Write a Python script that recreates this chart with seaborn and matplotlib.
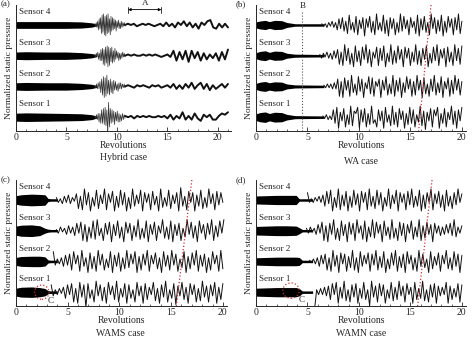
import numpy as np
import matplotlib
matplotlib.use("Agg")
import matplotlib.pyplot as plt
from matplotlib.patches import Ellipse
import seaborn as sns

# ---- data (units: sensor spacing = 1, osc ints x 0.04) ----
sensors = ["Sensor 1", "Sensor 2", "Sensor 3", "Sensor 4"]
rev_ticks = [0, 5, 10, 15, 20]

# (a) hybrid case
hy_band_x = [0, 1, 3, 5, 6.5, 7.5, 8.0]
hy_band_w1 = [0.13, 0.14, 0.13, 0.12, 0.11, 0.08, 0.03]
hy_band_w2 = [0.12, 0.13, 0.12, 0.12, 0.10, 0.07, 0.03]
hy_band_w3 = [0.12, 0.13, 0.12, 0.12, 0.10, 0.07, 0.03]
hy_band_w4 = [0.11, 0.11, 0.11, 0.11, 0.10, 0.07, 0.03]
hy_burst_span = [7.8, 10.8]
hy_burst1 = [1, -1, 2, -2, 3, -4, 3, -5, 6, -5, 7, -6, 8, -7, 6, -14, 12, -8, 7, -5, 6, -4, 5, -6, 4, -3, 5, -4, 3, -4, 2, -3, 3, -2, 2, -1]
hy_burst2 = [1, -1, 2, -2, 3, -2, 4, -5, 6, -7, 8, -9, 7, -8, 9, -6, 5, -7, 6, -5, 4, -6, 5, -3, 4, -3, 2, -4, 3, -2, 3, -2, 2, -1, 2, -1]
hy_burst3 = [1, -1, 2, -1, 3, -3, 2, -4, 5, -4, 6, -7, 5, -8, 7, -6, 8, -9, 7, -8, 6, -5, 7, -6, 4, -5, 6, -3, 4, -2, 3, -4, 2, -3, 2, -2, 3, -1, 2, -1]
hy_burst4 = [1, -1, 2, -2, 3, -4, 5, -3, 6, -7, 8, -6, 9, -8, 7, -9, 8, -7, 9, -6, 5, -8, 7, -5, 6, -4, 5, -3, 4, -5, 3, -2, 4, -3, 2, -3, 3, -2, 2, -1, 2, -1]
hy_slow_span = [10.8, 21.0]
hy_slow1 = [1, 0, 1, -1, 1, 0, 1, 0, 1, 0, 0, 1, 0, 1, -1, 2, -2, 1, -1, 4, -2, 1, -2, 3, -1, -3, 2, 0, 2, -2, -2, 1, 3, 2, 4]
hy_slow2 = [0, 1, 0, -1, 1, 0, 1, 0, -1, 1, 0, 1, -1, 0, 1, -1, 2, -2, 1, -2, 2, -1, 3, -2, 1, 3, -2, 2, -3, 1, -2, 0, 2, -1, 2]
hy_slow3 = [0, 1, 0, 1, 0, 0, 1, 0, 1, 0, 1, 0, -1, 0, 1, -1, 4, -4, 3, -3, 4, -5, 4, -2, 3, -4, 2, -3, 1, -2, 2, -4, 3, -3, 5]
hy_slow4 = [0, 1, 0, 1, -1, 0, 1, 0, 1, 0, -1, 0, 1, -1, 2, -1, 1, -2, 2, 0, 3, -1, 2, -2, 1, -3, 2, 0, 3, 4, -2, -3, 1, -2, 1, -2]

# (b) WA case
wa_band_x = [0, 0.4, 0.9, 1.3, 1.8, 2.5, 3.0, 3.8, 6.6]
wa_band_w1 = [0.11, 0.15, 0.17, 0.12, 0.16, 0.15, 0.09, 0.05, 0.04]
wa_band_w2 = [0.10, 0.14, 0.16, 0.12, 0.15, 0.14, 0.08, 0.05, 0.04]
wa_band_w3 = [0.10, 0.14, 0.16, 0.11, 0.15, 0.14, 0.08, 0.05, 0.04]
wa_band_w4 = [0.10, 0.13, 0.15, 0.11, 0.15, 0.14, 0.08, 0.04, 0.04]
wa_span1 = [6.5, 20.0]
wa_span2 = [6.6, 20.0]
wa_span3 = [6.2, 20.0]
wa_span4 = [6.4, 20.0]
wa_osc1 = [1, -1, 2, -2, 1, -2, 6, -5, 8, -9, 4, -3, 7, -8, 2, -6, 9, -7, 5, 3, 8, -9, 6, -4, 7, -8, 3, -6, 9, -5, -2, -8, 6, -3, 5, -9, 8, -4, 2, -7, 9, -6, 4, -8, 7, -2, 5, -9, 3, -6, 8, -5, 6, -8, 2, -4, 9, -7, 5, -10, 4, -3, 7, -8, 6, 1, 8, -9, 3, -5, 7, -8, 4, -2, 9, -6, 5, -9, 6, -3, 8]
wa_osc2 = [1, -1, 2, -1, 2, -2, 3, -2, 6, -8, 4, -9, 7, -3, 5, -8, 9, -5, 2, -7, 8, -4, 6, -9, 3, -2, 8, -6, 7, -8, 4, 0, 6, -9, 5, -3, 8, -7, 2, -6, 9, -8, 5, -4, 7, -9, 3, -5, 8, -2, 6, -8, 4, -7, 9, -3, 5, -9, 7, -6, 2, -8, 6, -4, 9, -7, 3, -5, 8, -9, 4, -2, 7, -8, 5, -6, 9, -3, 6, -7, 4]
wa_osc3 = [1, -2, 2, -1, 3, -2, 2, -3, 4, -2, 5, -7, 3, -8, 9, -4, 6, -7, 2, -9, 8, -5, 4, -8, 7, -3, 9, -6, 5, -9, 3, -2, 7, -8, 6, -4, 8, -9, 2, -5, 9, -7, 4, -6, 8, -3, 5, -9, 7, -2, 6, -8, 3, -5, 9, -7, 4, -8, 6, -3, 8, -9, 2, -6, 7, -4, 9, -8, 5, -2, 6, -9, 7, -5, 3, -8, 9, -4, 6, -7, 8]
wa_osc4 = [1, -1, 1, -2, 2, -1, 3, -2, 2, -4, 5, -3, 6, -5, 3, -7, 8, -4, 2, -6, 7, -8, 4, -3, 6, -9, 5, -2, 7, -6, 3, -8, 9, -4, 2, -5, 8, -7, 4, -9, 6, -3, 5, -8, 2, -6, 9, -5, 7, -3, 4, -8, 6, -2, 3, -7, 8, -9, 5, -4, 7, -6, 2, -8, 9, -3, 6, -7, 4, -5, 8, -9, 3, -6, 7, -2, 5, -8, 6, -4, 9, -7, 3]

# (c) WAMS case
ms_band_x = [0, 0.5, 1.5, 2.3, 2.8, 3.1, 3.4, 4.0]
ms_band_w1 = [0.13, 0.16, 0.17, 0.15, 0.12, 0.05, 0.04, 0.04]
ms_band_w2 = [0.13, 0.16, 0.17, 0.17, 0.15, 0.05, 0.04, 0.04]
ms_band_w3 = [0.15, 0.18, 0.19, 0.16, 0.08, 0.05, 0.04, 0.04]
ms_band_w4 = [0.14, 0.17, 0.19, 0.18, 0.17, 0.05, 0.04, 0.04]
ms_span1 = [3.4, 20.0]
ms_span2 = [3.6, 20.0]
ms_span3 = [3.9, 20.1]
ms_span4 = [3.9, 20.0]
ms_osc1 = [6, -3, 2, -2, 3, -1, 4, -5, 6, -2, 7, -8, 3, -9, 8, -4, 6, -12, 7, -5, 2, -8, 9, -3, 6, -7, 4, -9, 8, -2, 5, -6, 9, -8, 3, -4, 7, -9, 6, -5, 2, -8, 8, -3, 5, -9, 7, -6, 4, -2, 8, -7, 3, -9, 6, -4, 9, -8, 2, -5, 7, -10, 5, -3, 8, -6, 4, -9, 7, -2, 6, -8, 3, -7, 9, -4, 5, -8, 6, -3, 8, -9, 4, -6, 7]
ms_osc2 = [8, -3, 2, -2, 3, -4, 5, -3, 6, -7, 8, -2, 5, -8, 9, -4, 3, -9, 7, -6, 4, -8, 9, -3, 6, -7, 2, -5, 8, -9, 5, -4, 7, -8, 3, -6, 9, -5, 6, -2, 8, -9, 4, -7, 6, -3, 9, -8, 5, -2, 7, -6, 3, -9, 8, -4, 5, -7, 9, -3, 6, -8, 2, -5, 8, -9, 4, -6, 7, -3, 9, -8, 5, -4, 6, -9, 3, -7, 8, -2, 5, -8, 9, -6]
ms_osc3 = [1, -2, 3, -1, 2, -3, 4, -2, 3, -4, 6, -2, 7, -8, 5, -9, 3, -6, 8, -7, 9, -4, 2, -8, 6, -3, 7, -9, 5, -4, 8, -6, 3, -9, 7, -2, 6, -8, 4, -5, 9, -7, 2, -6, 8, -9, 5, -3, 7, -8, 4, -2, 9, -6, 3, -7, 8, -9, 5, -4, 6, -8, 2, -5, 9, -3, 7, -6, 4, -9, 8, -2, 5, -7, 6, -3, 9, -8, 4, -5, 8, -2, 9]
ms_osc4 = [2, -2, 1, -3, 3, -2, 4, -3, 2, -1, 5, -7, 3, -8, 9, -4, 6, -9, 2, -5, 8, -7, 4, -3, 9, -8, 5, -2, 7, -9, 3, -6, 8, -4, 6, -9, 2, -7, 9, -5, 4, -3, 8, -9, 6, -2, 5, -8, 7, -4, 3, -9, 9, -6, 2, -5, 8, -7, 4, -3, 6, -9, 10, -5, 3, -8, 7, -2, 6, -9, 4, -5, 8, -7, 2, -6, 9, -3, 5, -8, 7, -4, 6, -2]

# (d) WAMN case
mn_band_x = [0, 1, 2, 3, 3.9, 4.2, 4.5, 5.5]
mn_band_w1 = [0.13, 0.14, 0.15, 0.15, 0.15, 0.12, 0.04, 0.04]
mn_band_w2 = [0.12, 0.13, 0.14, 0.14, 0.14, 0.13, 0.04, 0.04]
mn_band_w3 = [0.14, 0.15, 0.16, 0.16, 0.15, 0.10, 0.04, 0.04]
mn_band_w4 = [0.13, 0.14, 0.15, 0.15, 0.15, 0.04, 0.04, 0.04]
mn_span1 = [5.7, 20.0]
mn_span2 = [5.2, 20.0]
mn_span3 = [4.9, 20.0]
mn_span4 = [5.0, 20.0]
mn_osc1 = [-13, 2, -2, 3, -2, 4, -3, 5, -6, 7, -2, 8, -9, 4, -5, 9, -7, 2, -8, 6, -4, 7, -9, 3, -5, 8, -6, 2, -11, 9, -4, 5, -8, 7, -3, 6, -9, 2, -5, 8, -7, 4, -6, 9, -3, 5, -8, 7, -2, 4, -9, 8, -6, 3, -5, 9, -7, 2, -8, 6, -4, 7, -9, 5, -3, 4, -2, 8, -9, 5, -6, 3, -4, 7, -8, 6]
mn_osc2 = [1, -1, 2, -2, 3, -4, 5, -2, 6, -7, 3, -8, 9, -4, 5, -9, 7, -2, 6, -8, 4, -5, 9, -7, 3, -9, 8, -4, 5, -2, 7, -8, 6, -3, 9, -7, 4, -5, 8, -9, 2, -6, 7, -3, 9, -8, 4, -5, 6, -9, 8, -2, 5, -7, 3, -8, 9, -4, 6, -5, 2, -9, 8, -6, 4, -3, 7, -8, 5, -2, 9, -6, 3, -7, 8, -4, 6, -9, 5]
mn_osc3 = [2, -2, 3, -1, 2, -3, 5, -2, 7, -8, 4, -9, 6, -3, 9, -7, 2, -8, 8, -4, 5, -9, 7, -3, 6, -8, 9, -2, 4, -7, 8, -9, 3, -5, 9, -6, 7, -2, 5, -9, 8, -4, 3, -7, 9, -6, 2, -8, 7, -4, 6, -9, 5, -2, 8, -7, 3, -5, 9, -8, 4, -6, 7, -3, 5, -9, 6, -2, 4, -4, 3, -3, 5, -2, 6, -4, 9, -5, 3, -2, 4]
mn_osc4 = [6, -2, 1, -2, 2, -1, 3, -2, 4, -5, 7, -3, 8, -9, 2, -6, 9, -8, 4, -5, 7, -9, 3, -6, 8, -4, 5, -9, 7, -2, 6, -8, 9, -5, 3, -7, 8, -4, 6, -9, 2, -5, 9, -7, 4, -3, 8, -9, 6, -2, 5, -8, 7, -4, 9, -6, 3, -5, 8, -9, 4, -7, 6, -2, 9, -8, 5, -3, 7, -6, 4, -9, 8, -5, 3, -7, 6, -4, 9, -2, 5]

SCALE = 0.04
W, H = 474, 351

sns.set_theme(style="ticks")
plt.rcParams["font.family"] = ["Liberation Serif", "DejaVu Serif"]
plt.rcParams["axes.linewidth"] = 0.7

fig = plt.figure(figsize=(W / 100, H / 100), dpi=100)
fig.patch.set_facecolor("white")


def make_axes(left, bottom, width, height, xmax):
    # pixel box -> figure fraction
    ax = fig.add_axes([left / W, 1 - bottom / H, width / W, height / H])
    ax.set_facecolor("white")
    ax.set_xlim(0, xmax)
    ax.set_ylim(0.55, 4.65)
    sns.despine(ax=ax)
    ax.set_yticks([])
    ax.set_xticks(rev_ticks)
    ax.set_xticks(range(0, int(xmax) + 1), minor=True)
    ax.tick_params(axis="x", direction="in", length=3, width=0.6, labelsize=7, pad=1.5)
    ax.tick_params(axis="x", which="minor", direction="in", length=1.5, width=0.5)
    ax.set_xlabel("Revolutions", fontsize=7, labelpad=-1)
    ax.set_ylabel("Normalized static pressure", fontsize=6.8, labelpad=2)
    return ax


def band(ax, base, xs, ws):
    ws = np.array(ws)
    ax.fill_between(xs, base - ws, base + ws, color="black", lw=0)


def zig(ax, base, span, vals, lw=0.7, color="#111111"):
    xs = np.linspace(span[0], span[1], len(vals))
    ys = base + np.array(vals) * SCALE
    sns.lineplot(x=xs, y=ys, ax=ax, color=color, lw=lw, sort=False, estimator=None)


def labels(ax):
    for i, name in enumerate(sensors):
        ax.text(0.25, i + 1.42, name, fontsize=6.5, va="center", ha="left")


# (a) Hybrid
ax_a = make_axes(16, 131, 215, 126, 21.3)
for base, w, burst, slow in zip([1, 2, 3, 4],
                                [hy_band_w1, hy_band_w2, hy_band_w3, hy_band_w4],
                                [hy_burst1, hy_burst2, hy_burst3, hy_burst4],
                                [hy_slow1, hy_slow2, hy_slow3, hy_slow4]):
    band(ax_a, base, hy_band_x, w)
    zig(ax_a, base, hy_burst_span, burst, lw=0.5, color="#333333")
    zig(ax_a, base, hy_slow_span, slow, lw=1.4)
labels(ax_a)
ax_a.annotate("", xy=(11.1, 4.5), xytext=(14.4, 4.5),
              arrowprops=dict(arrowstyle="<|-|>", color="black", lw=0.6,
                              shrinkA=0, shrinkB=0, mutation_scale=4),
              annotation_clip=False)
ax_a.plot([11.1, 11.1], [4.40, 4.60], color="k", lw=0.6, clip_on=False)
ax_a.plot([14.4, 14.4], [4.40, 4.60], color="k", lw=0.6, clip_on=False)
ax_a.text(12.75, 4.6, "A", fontsize=6.5, ha="center", va="bottom", clip_on=False)

# (b) WA
ax_b = make_axes(256, 131, 210, 126, 20.4)
for base, w, span, osc in zip([1, 2, 3, 4],
                              [wa_band_w1, wa_band_w2, wa_band_w3, wa_band_w4],
                              [wa_span1, wa_span2, wa_span3, wa_span4],
                              [wa_osc1, wa_osc2, wa_osc3, wa_osc4]):
    band(ax_b, base, wa_band_x, w)
    zig(ax_b, base, span, osc)
labels(ax_b)
ax_b.plot([4.5, 4.5], [0.55, 4.42], color="#555555", ls=":", lw=0.8)
ax_b.text(4.5, 4.5, "B", fontsize=6.5, ha="center", va="bottom")
ax_b.plot([17.0, 15.8], [4.65, 0.55], color="#d03030", ls=":", lw=0.9)

# (c) WAMS
ax_c = make_axes(16, 306, 211, 126, 20.4)
for base, w, span, osc in zip([1, 2, 3, 4],
                              [ms_band_w1, ms_band_w2, ms_band_w3, ms_band_w4],
                              [ms_span1, ms_span2, ms_span3, ms_span4],
                              [ms_osc1, ms_osc2, ms_osc3, ms_osc4]):
    band(ax_c, base, ms_band_x, w)
    zig(ax_c, base, span, osc)
labels(ax_c)
ax_c.plot([17.0, 15.5], [4.65, 0.55], color="#d03030", ls=":", lw=0.9)
ax_c.add_patch(Ellipse((2.5, 1.0), 1.4, 0.46, fill=False, ec="#d03030", ls=":", lw=0.9))
ax_c.text(3.3, 0.72, "C", fontsize=6.5, ha="center", va="center")

# (d) WAMN
ax_d = make_axes(256, 306, 210, 126, 20.4)
for base, w, span, osc in zip([1, 2, 3, 4],
                              [mn_band_w1, mn_band_w2, mn_band_w3, mn_band_w4],
                              [mn_span1, mn_span2, mn_span3, mn_span4],
                              [mn_osc1, mn_osc2, mn_osc3, mn_osc4]):
    band(ax_d, base, mn_band_x, w)
    zig(ax_d, base, span, osc)
labels(ax_d)
ax_d.plot([17.1, 15.7], [4.65, 0.55], color="#d03030", ls=":", lw=0.9)
ax_d.add_patch(Ellipse((3.4, 1.05), 1.6, 0.5, fill=False, ec="#d03030", ls=":", lw=0.9))
ax_d.text(4.4, 0.75, "C", fontsize=6.5, ha="center", va="center")

# panel tags and case names
for x, y, s in [(1, 4, "(a)"), (236, 4, "(b)"), (1, 180, "(c)"), (236, 180, "(d)")]:
    fig.text(x / W, 1 - y / H, s, fontsize=6.5, ha="left", va="center")
for x, y, s in [(124, 158, "Hybrid case"), (361, 162, "WA case"),
                (120, 334, "WAMS case"), (361, 334, "WAMN case")]:
    fig.text(x / W, 1 - y / H, s, fontsize=7, ha="center", va="center")

fig.savefig("out.png", dpi=100, facecolor="white")
